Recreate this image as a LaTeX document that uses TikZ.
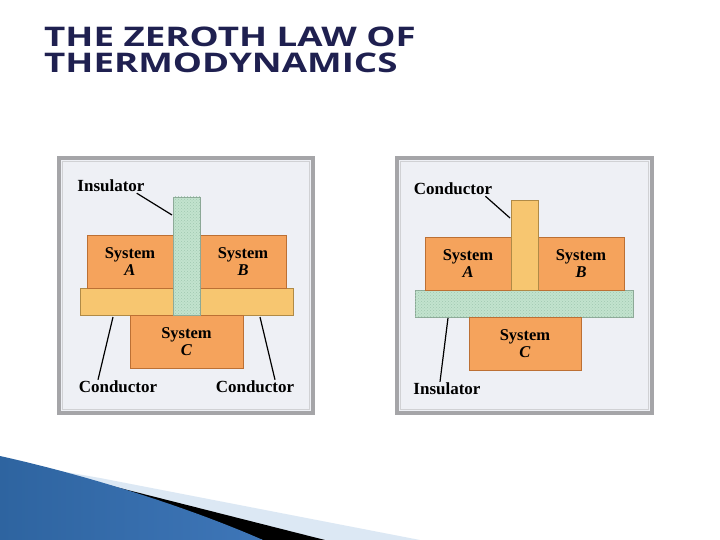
\documentclass[tikz,border=0pt]{standalone}
\usepackage{fontspec}
\setmainfont{Liberation Serif}
\newfontfamily\titlefont[FakeStretch = 1.36]{Open Sans}
\usetikzlibrary{patterns}

\definecolor{titleblue}{RGB}{31,32,80}
\definecolor{panelbg}{RGB}{238,240,245}
\definecolor{framegrey}{RGB}{165,165,168}
\definecolor{frameedge}{RGB}{208,209,212}
\definecolor{sysorange}{RGB}{245,163,92}
\definecolor{sysedge}{RGB}{188,112,52}
\definecolor{condyellow}{RGB}{247,198,112}
\definecolor{condedge}{RGB}{176,138,70}
\definecolor{insgreen}{RGB}{194,227,206}
\definecolor{insedge}{RGB}{140,168,150}
\definecolor{insdot}{RGB}{160,200,176}
\definecolor{swdark}{RGB}{46,100,160}
\definecolor{swlight}{RGB}{112,172,228}
\definecolor{swmid}{RGB}{62,118,184}
\definecolor{swpale}{RGB}{220,232,244}

\tikzstyle{title} = [inner sep = 0pt, text = titleblue, font = \titlefont\bfseries\fontsize{27}{30}\selectfont]
\tikzstyle{frame} = [fill = panelbg, draw = framegrey, line width = 3.5pt]
\tikzstyle{sysbox} = [draw = sysedge, fill = sysorange, inner sep = 0pt, align = center, font = \bfseries\fontsize{16.5}{16.5}\selectfont]
\tikzstyle{conductor} = [draw = condedge, fill = condyellow, inner sep = 0pt]
\tikzstyle{insulator} = [draw = insedge, fill = insgreen, inner sep = 0pt, postaction = {pattern = crosshatch dots, pattern color = insdot}]
\tikzstyle{lbl} = [inner sep = 1pt, font = \bfseries\fontsize{17}{17}\selectfont]
\tikzstyle{leader} = [line width = 1.2pt]

\begin{document}
\begin{tikzpicture}[x = 1pt, y = -1pt]
        \useasboundingbox (0, 0) rectangle (720, 540);
        \fill[white] (0, 0) rectangle (720, 540);

        % Title
        \node[title, anchor = base west] (title1) at (44, 47) {THE ZEROTH LAW OF};
        \node[title, anchor = base west] (title2) at (44, 73) {THERMODYNAMICS};

        % Swoosh
        \fill[swpale] (37, 467) -- (100, 478) -- (420, 540) -- (320, 540) -- cycle;
        \fill[black] (37, 467) -- (325, 540) -- (263, 540) -- cycle;
        \shade[left color = swdark, middle color = swlight, right color = swmid]
          (0, 456) .. controls (90, 476) and (190, 508) .. (263, 540) -- (0, 540) -- cycle;

        % Left panel
        \draw[frame] (59, 158) rectangle (313, 413);
        \draw[frameedge, line width = 1pt] (62.5, 161.5) rectangle (309.5, 409.5);
        \node[conductor, minimum width = 213, minimum height = 27] (plateL) at (186.5, 301.5) {};
        \node[sysbox, minimum width = 86, minimum height = 53] (sysAL) at (130, 261.5) {System\\\textit{A}};
        \node[sysbox, minimum width = 86, minimum height = 53] (sysBL) at (243, 261.5) {System\\\textit{B}};
        \node[sysbox, minimum width = 113, minimum height = 53] (sysCL) at (186.5, 341.5) {System\\\textit{C}};
        \node[insulator, minimum width = 27, minimum height = 118] (barL) at (186.5, 256) {};

        \node[lbl] (insLbl) at (111, 186) {Insulator};
        \node[lbl] (condLbl1) at (118, 387) {Conductor};
        \node[lbl] (condLbl2) at (255, 387) {Conductor};
        \coordinate (insTip) at (172, 215);
        \coordinate (condTip1) at (113, 317);
        \coordinate (condTip2) at (260, 317);
        \draw[leader] ([xshift = -9]insLbl.south east) -- (insTip);
        \draw[leader] ([xshift = -20]condLbl1.north) -- (condTip1);
        \draw[leader] ([xshift = 20]condLbl2.north) -- (condTip2);

        % Right panel
        \draw[frame] (397, 158) rectangle (652, 413);
        \draw[frameedge, line width = 1pt] (400.5, 161.5) rectangle (648.5, 409.5);
        \node[insulator, minimum width = 218, minimum height = 27] (plateR) at (524, 303.5) {};
        \node[sysbox, minimum width = 86, minimum height = 53] (sysAR) at (468, 263.5) {System\\\textit{A}};
        \node[sysbox, minimum width = 86, minimum height = 53] (sysBR) at (581, 263.5) {System\\\textit{B}};
        \node[sysbox, minimum width = 112, minimum height = 53] (sysCR) at (525, 343.5) {System\\\textit{C}};
        \node[conductor, minimum width = 27, minimum height = 90] (barR) at (524.5, 245) {};

        \node[lbl] (condLbl3) at (453, 189) {Conductor};
        \node[lbl] (insLbl2) at (447, 389) {Insulator};
        \coordinate (condTip3) at (510, 218);
        \coordinate (insTip2) at (448, 318);
        \draw[leader] ([xshift = -8]condLbl3.south east) -- (condTip3);
        \draw[leader] ([xshift = -7]insLbl2.north) -- (insTip2);
\end{tikzpicture}
\end{document}
